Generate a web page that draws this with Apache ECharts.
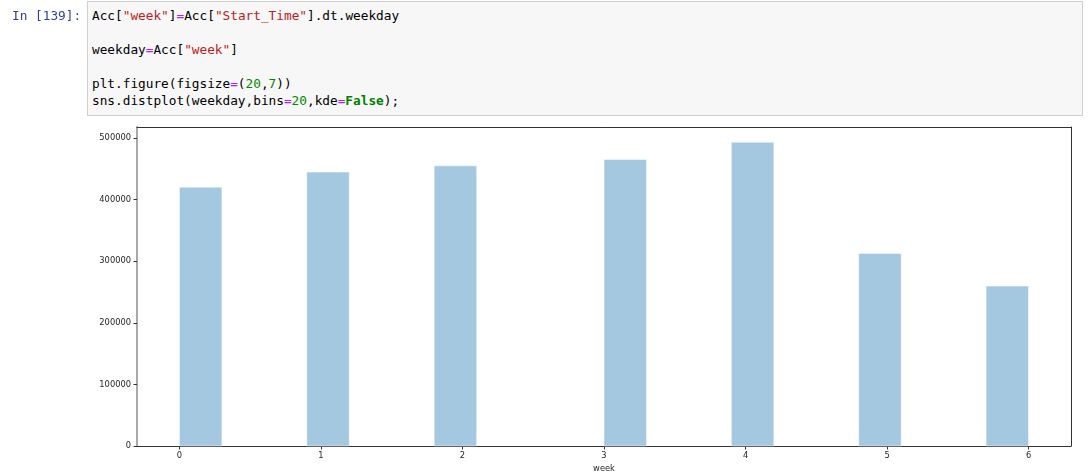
<!DOCTYPE html>
<html>
<head>
<meta charset="utf-8">
<script src="https://cdn.jsdelivr.net/npm/echarts@6/dist/echarts.min.js"></script>
<style>
  html, body { margin: 0; padding: 0; background: #fff; width: 1092px; height: 474px; overflow: hidden; }
  #chart { position: absolute; left: 0; top: 0; width: 1092px; height: 474px; }
  .prompt { position: absolute; left: 12px; top: 7px; font-family: "DejaVu Sans Mono", monospace; font-size: 12.75px; line-height: 17px; color: #303F9F; white-space: pre; }
  .cell { position: absolute; left: 87px; top: 1px; width: 996px; height: 115px; background: #f7f7f7; border: 1px solid #cfcfcf; box-sizing: border-box; }
  .code { position: absolute; left: 92px; top: 7px; font-family: "DejaVu Sans Mono", monospace; font-size: 12.75px; line-height: 17px; color: #000; white-space: pre; margin: 0; }
  .s { color: #BA2121; }
  .o { color: #AA22FF; }
  .n { color: #008800; }
  .k { color: #008000; font-weight: bold; }
</style>
</head>
<body>
<div id="chart"></div>
<div class="prompt">In [139]:</div>
<div class="cell"></div>
<pre class="code">Acc[<span class="s">"week"</span>]<span class="o">=</span>Acc[<span class="s">"Start_Time"</span>].dt.weekday

weekday<span class="o">=</span>Acc[<span class="s">"week"</span>]

plt.figure(figsize<span class="o">=</span>(<span class="n">20</span>,<span class="n">7</span>))
sns.distplot(weekday,bins<span class="o">=</span><span class="n">20</span>,kde<span class="o">=</span><span class="k">False</span>);</pre>
<script>
// ---- data ----
const weekdays = [0, 1, 2, 3, 4, 5, 6];
const counts = [420000, 444500, 454600, 465000, 493000, 312500, 259500];
const binCount = 20;
const xTicks = [0, 1, 2, 3, 4, 5, 6];
const yTicks = [0, 100000, 200000, 300000, 400000, 500000];
const xName = 'week';

// ---- histogram bins (numpy-like, 20 equal bins over data range) ----
const dMin = Math.min.apply(null, weekdays);
const dMax = Math.max.apply(null, weekdays);
const binW = (dMax - dMin) / binCount;
const bars = weekdays.map(function (d, i) {
  let idx = Math.floor((d - dMin) / binW + 1e-9);
  if (idx >= binCount) idx = binCount - 1;
  return [dMin + idx * binW, dMin + (idx + 1) * binW, counts[i]];
});
const xPad = 0.05 * (dMax - dMin);
const yMax = Math.max.apply(null, counts) * 1.05;

const lab = { fontFamily: 'DejaVu Sans', fontSize: 8.3, color: '#262626' };
const spineOnly = { show: true, onZero: false, lineStyle: { color: '#333333', width: 1 } };

const chart = echarts.init(document.getElementById('chart'), null, { renderer: 'canvas' });
chart.setOption({
  animation: false,
  backgroundColor: '#ffffff',
  grid: { left: 137, right: 21, top: 127, bottom: 28, containLabel: false, outerBoundsMode: 'none', show: false },
  xAxis: [{
    type: 'value', min: dMin - xPad, max: dMax + xPad,
    name: xName, nameLocation: 'middle', nameGap: 17,
    nameTextStyle: lab,
    axisLine: { show: true, onZero: false, lineStyle: { color: '#333333', width: 1 } },
    axisTick: { show: true, length: 3.5, customValues: xTicks, lineStyle: { color: '#333333' } },
    axisLabel: Object.assign({ margin: 6, customValues: xTicks, formatter: function (v) { return String(v); } }, lab),
    splitLine: { show: false }
  }, {
    type: 'value', position: 'top', min: dMin - xPad, max: dMax + xPad,
    axisLine: spineOnly, axisTick: { show: false }, axisLabel: { show: false }, splitLine: { show: false }
  }],
  yAxis: [{
    type: 'value', min: 0, max: yMax,
    axisLine: { show: true, onZero: false, lineStyle: { color: '#a9a9a9', width: 2 } },
    axisTick: { show: true, length: 3.5, customValues: yTicks, lineStyle: { color: '#333333' } },
    axisLabel: Object.assign({ margin: 6, customValues: yTicks, formatter: function (v) { return String(v); } }, lab),
    splitLine: { show: false }
  }, {
    type: 'value', position: 'right', min: 0, max: yMax,
    axisLine: spineOnly, axisTick: { show: false }, axisLabel: { show: false }, splitLine: { show: false }
  }],
  series: [{
    type: 'custom',
    data: bars,
    encode: { x: [0, 1], y: 2 },
    renderItem: function (params, api) {
      const p0 = api.coord([api.value(0), api.value(2)]);
      const p1 = api.coord([api.value(1), 0]);
      return {
        type: 'rect',
        shape: { x: p0[0], y: p0[1], width: p1[0] - p0[0], height: p1[1] - p0[1] },
        style: { fill: '#a5c8e1', stroke: 'rgba(255,255,255,0.6)', lineWidth: 0.8 }
      };
    }
  }]
});
</script>
</body>
</html>
